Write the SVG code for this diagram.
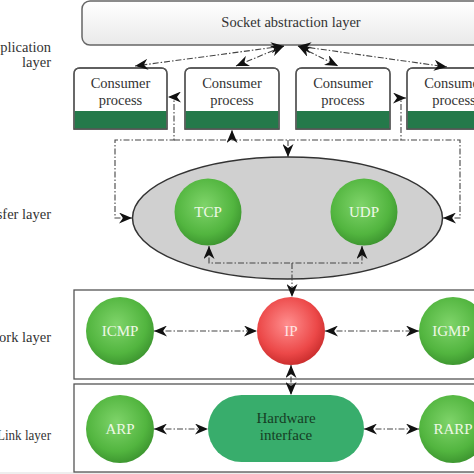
<svg xmlns="http://www.w3.org/2000/svg" width="474" height="474" viewBox="0 0 474 474">
<style>
text{font-family:"Liberation Serif","Times New Roman",serif;}
.lbl{font-size:14.5px;fill:#333;text-anchor:end;}
.ct{font-size:14.5px;fill:#333;text-anchor:middle;}
.nt{font-size:15px;fill:#eef8e6;text-anchor:middle;}
.box{fill:#fff;stroke:#555;stroke-width:1.3;}
.band{fill:#24794a;}
.conn{fill:none;stroke:#444;stroke-width:1.1;stroke-dasharray:6 2 1.5 2;}
.arr{marker-end:url(#ah);marker-start:url(#ah);}
.end{marker-end:url(#ah);}
.g{fill:url(#gg);}
</style>
<defs>
<marker id="ah" viewBox="0 0 13 11" refX="13" refY="5.5" markerWidth="13" markerHeight="11" markerUnits="userSpaceOnUse" orient="auto-start-reverse">
<path d="M0,0 L13,5.5 L0,11 L4,5.5 Z" fill="#111"/>
</marker>
<linearGradient id="sock" x1="0" y1="0" x2="0" y2="1">
<stop offset="0" stop-color="#ffffff"/>
<stop offset="1" stop-color="#e9e9e9"/>
</linearGradient>
<radialGradient id="gg" cx="0.45" cy="0.4" r="0.62">
<stop offset="0" stop-color="#7fd46a"/>
<stop offset="0.7" stop-color="#52b53f"/>
<stop offset="1" stop-color="#3c942f"/>
</radialGradient>
<radialGradient id="rg" cx="0.45" cy="0.4" r="0.62">
<stop offset="0" stop-color="#ff8e8e"/>
<stop offset="0.7" stop-color="#ec4848"/>
<stop offset="1" stop-color="#c92c2c"/>
</radialGradient>
</defs>
<rect x="0" y="0" width="474" height="474" fill="#fff"/>
<rect x="0" y="472" width="474" height="2" fill="#eeeeee"/>
<g id="layer-labels">
<text class="lbl" x="51" y="52">Application</text>
<text class="lbl" x="51" y="67">layer</text>
<text class="lbl" x="51" y="219">Transfer layer</text>
<text class="lbl" x="51" y="342">Network layer</text>
<text class="lbl" x="51" y="440" textLength="54" lengthAdjust="spacingAndGlyphs">Link layer</text>
</g>
<g id="network-box"><rect x="74" y="290" width="430" height="89" fill="#fff" stroke="#555" stroke-width="1.3"/></g>
<g id="link-box"><rect x="74" y="384" width="430" height="88" fill="#fff" stroke="#555" stroke-width="1.3"/></g>
<g id="socket">
<rect x="82" y="1" width="430" height="44" rx="8" fill="url(#sock)" stroke="#666" stroke-width="1.5"/>
<text x="291" y="27" style="font-size:14.5px;fill:#333;text-anchor:middle">Socket abstraction layer</text>
</g>
<g id="consumer1">
<path class="box" d="M74,129 V74 Q74,68 80,68 H161 Q167,68 167,74 V129 Z"/>
<rect class="band" x="74.5" y="111" width="92" height="18"/>
<path d="M74,129 V74 Q74,68 80,68 H161 Q167,68 167,74 V129 Z" fill="none" stroke="#555" stroke-width="1.3"/>
<text class="ct" x="120.5" y="88">Consumer</text><text class="ct" x="120.5" y="105">process</text>
</g>
<g id="consumer2">
<path class="box" d="M185,129 V74 Q185,68 191,68 H273 Q279,68 279,74 V129 Z"/>
<rect class="band" x="185.5" y="111" width="93" height="18"/>
<path d="M185,129 V74 Q185,68 191,68 H273 Q279,68 279,74 V129 Z" fill="none" stroke="#555" stroke-width="1.3"/>
<text class="ct" x="232" y="88">Consumer</text><text class="ct" x="232" y="105">process</text>
</g>
<g id="consumer3">
<path class="box" d="M296,129 V74 Q296,68 302,68 H384 Q390,68 390,74 V129 Z"/>
<rect class="band" x="296.5" y="111" width="93" height="18"/>
<path d="M296,129 V74 Q296,68 302,68 H384 Q390,68 390,74 V129 Z" fill="none" stroke="#555" stroke-width="1.3"/>
<text class="ct" x="343" y="88">Consumer</text><text class="ct" x="343" y="105">process</text>
</g>
<g id="consumer4">
<path class="box" d="M407,129 V74 Q407,68 413,68 H495 Q501,68 501,74 V129 Z"/>
<rect class="band" x="407.5" y="111" width="93" height="18"/>
<path d="M407,129 V74 Q407,68 413,68 H495 Q501,68 501,74 V129 Z" fill="none" stroke="#555" stroke-width="1.3"/>
<text class="ct" x="454" y="88">Consumer</text><text class="ct" x="454" y="105">process</text>
</g>
<g id="transfer">
<ellipse cx="287.5" cy="218" rx="155" ry="61" fill="#d0d0d0" stroke="#333" stroke-width="1.5"/>
</g>
<g id="tcp"><circle class="g" cx="208" cy="212" r="33.5"/><text class="nt" x="208" y="217">TCP</text></g>
<g id="udp"><circle class="g" cx="364" cy="212" r="33.5"/><text class="nt" x="364" y="217">UDP</text></g>
<g id="icmp"><circle class="g" cx="120" cy="331" r="34"/><text class="nt" x="120" y="336">ICMP</text></g>
<g id="ip"><circle cx="291" cy="331" r="34" fill="url(#rg)"/><text x="291" y="336" style="font-size:15px;fill:#ffe4e4;text-anchor:middle">IP</text></g>
<g id="igmp"><circle class="g" cx="453" cy="331" r="34"/><text class="nt" x="451" y="336">IGMP</text></g>
<g id="arp"><circle class="g" cx="120" cy="429" r="34"/><text class="nt" x="120" y="434">ARP</text></g>
<g id="hardware">
<rect x="208" y="395" width="156" height="67" rx="33.5" fill="#38ad6c"/>
<text x="286" y="423" style="font-size:15px;fill:#163d25;text-anchor:middle">Hardware</text>
<text x="286" y="440" style="font-size:15px;fill:#163d25;text-anchor:middle">interface</text>
</g>
<g id="rarp"><circle class="g" cx="453" cy="429" r="34"/><text class="nt" x="453" y="434">RARP</text></g>
<g id="connectors">
<path class="conn arr" d="M284,46 L135,66"/>
<path class="conn arr" d="M284,46 L236,66"/>
<path class="conn arr" d="M298,46 L338,66"/>
<path class="conn arr" d="M298,46 L447,67"/>
<path class="conn arr" d="M132,218 L115,218 L115,140 L174,140 L174,97 L168,97"/>
<path class="conn arr" d="M443,218 L460,218 L460,140 L401,140 L401,98 L406,98"/>
<path class="conn" d="M174,140 L401,140"/>
<path class="conn end" d="M232,140 L232,130"/>
<path class="conn end" d="M288,140 L288,157"/>
<path class="conn arr" d="M209,246 L209,263 L362,263 L362,246"/>
<path class="conn end" d="M292,263 L292,297"/>
<path class="conn arr" d="M154,331 L257,331"/>
<path class="conn arr" d="M325,331 L419,331"/>
<path class="conn arr" d="M291,365 L291,395"/>
<path class="conn arr" d="M154,429 L208,429"/>
<path class="conn arr" d="M364,429 L419,429"/>
</g>
</svg>
